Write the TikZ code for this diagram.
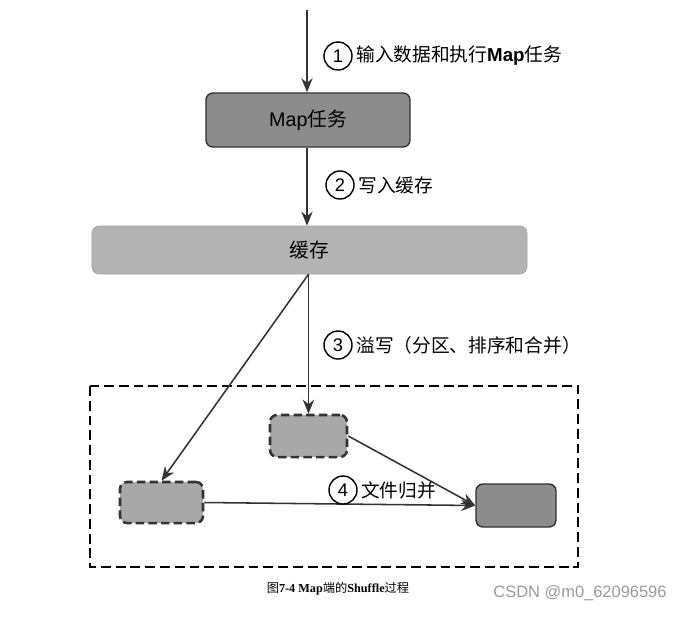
\documentclass[tikz,border=0pt]{standalone}
\usepackage{fontspec}
\setmainfont{Liberation Sans}
\newfontfamily\cjk{Noto Sans CJK SC}
\newfontfamily\capserif{Liberation Serif}
\usepackage{xcolor}
\usetikzlibrary{arrows.meta,positioning}

\definecolor{linegray}{HTML}{333333}
\definecolor{taskgray}{HTML}{8C8C8C}
\definecolor{bufgray}{HTML}{B3B3B3}
\definecolor{spillgray}{HTML}{A8A8A8}
\definecolor{markgray}{HTML}{9A9A9A}

\begin{document}
\begin{tikzpicture}[x=0.025cm, y=-0.025cm, line width=1.1pt, every node/.style={font=\cjk\fontsize{13.3}{15}\selectfont}, flow/.style={draw=linegray,-{Stealth[length=10pt,width=8pt]}}, task/.style={draw=linegray,rounded corners=5pt,fill=taskgray,line width=1pt}, buf/.style={draw=bufgray!90!black,rounded corners=5pt,fill=bufgray,line width=0.4pt,minimum width=10.875cm,minimum height=1.2cm,font=\cjk\fontsize{14}{16}\selectfont}, spillbox/.style={draw=linegray,rounded corners=5pt,fill=spillgray,line width=1.8pt,dash pattern=on 6pt off 3pt}, num/.style={draw=black,circle,fill=white,line width=1pt,minimum size=0.7cm,inner sep=0pt,font=\fontsize{13}{15}\selectfont}, lab/.style={anchor=west,inner sep=2pt}]
    \useasboundingbox (0,0) rectangle (683,620);

    % main flow
    \coordinate (in) at (307,10);
    \node[task,minimum width=5.1cm,minimum height=1.35cm,font=\fontsize{14}{16}\selectfont] (map) at (308,120) {Map{\cjk 任务}};
    \node[buf] (cache) at (309.5,250) {缓存};
    \node[spillbox,minimum width=1.925cm,minimum height=1.05cm] (mid) at (308.5,436) {};
    \node[spillbox,minimum width=2.075cm,minimum height=1.025cm] (left) at (161.5,502.5) {};
    \node[task,minimum width=2cm,minimum height=1.075cm] (merged) at (516,505.5) {};
    \draw[black,line width=1.4pt,dash pattern=on 7pt off 3.5pt] (90,386) rectangle (578,567);

    \draw[flow] (in) -- (map.north -| in);
    \draw[flow] (map.south -| in) -- (cache.north -| in);
    \draw[flow] (cache.south -| mid.north) -- (mid.north);
    \draw[flow] (cache.south -| mid.north) -- (left.north);
    \draw[flow] (left.east) -- (merged.west);
    \draw[flow] (mid.east) -- (merged.west);

    % numbered steps
    \foreach \n/\x/\y in {1/338/56,2/340/185,3/338/345,4/343/490}{
      \node[num] (c\n) at (\x,\y) {\n};
    }
    \node[lab] (t1) at (c1.east) {输入数据和执行{\rmfamily\bfseries Map}任务};
    \node[lab] (t2) at (c2.east) {写入缓存};
    \node[lab] (t3) at (c3.east) {溢写（分区、排序和合并）};
    \node[lab] (t4) at (c4.east) {文件归并};

    % caption and mark
    \node[font=\fontsize{8.7}{10}\selectfont] (cap) at (338,589) {{\cjk 图}{\capserif\bfseries 7-4 Map}{\cjk 端的}{\capserif\bfseries Shuffle}{\cjk 过程}};
    \node[font=\rmfamily\fontsize{11.7}{14}\selectfont,text=markgray] (mark) at (580,593) {CSDN @m0\_62096596};
\end{tikzpicture}
\end{document}
